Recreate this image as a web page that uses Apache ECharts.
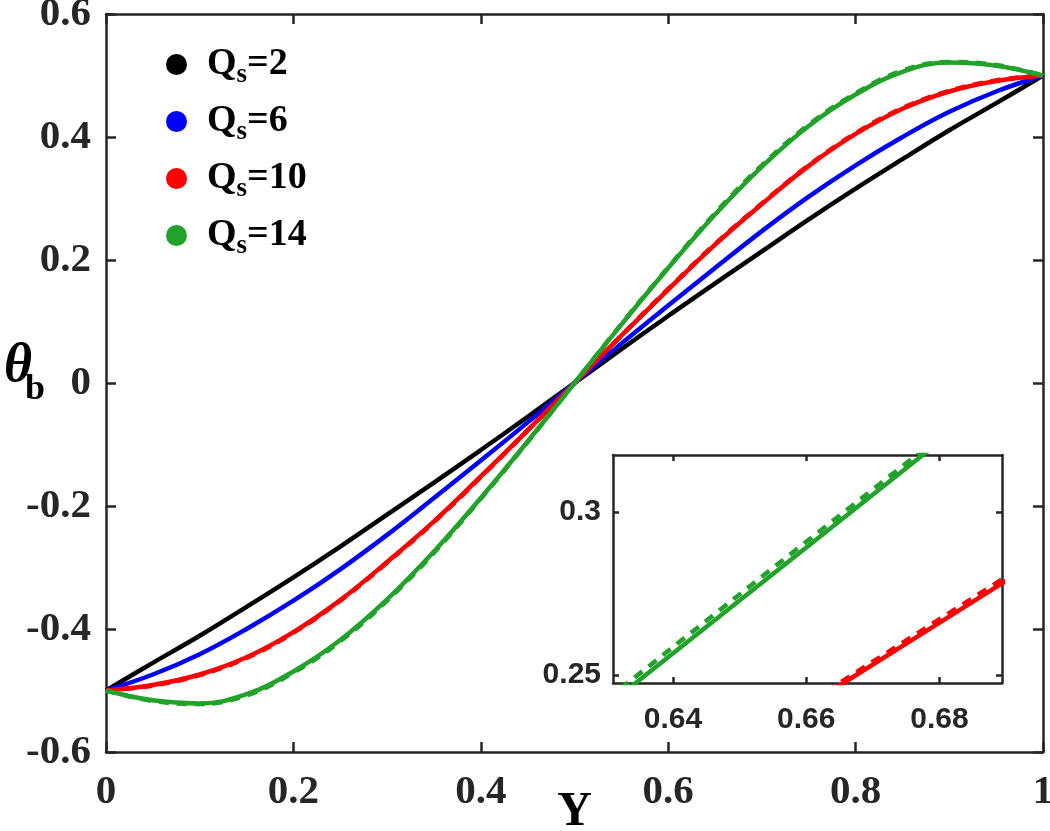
<!DOCTYPE html>
<html>
<head>
<meta charset="utf-8">
<script src="https://cdn.jsdelivr.net/npm/echarts@6/dist/echarts.min.js"></script>
<style>
  html, body { margin: 0; padding: 0; background: #fff; }
  #chart { width: 1050px; height: 831px; }
</style>
</head>
<body>
<div id="chart"></div>
<script>
const chartDom = document.getElementById("chart");
let myChart = echarts.init(chartDom);

/** main plot data */
const ys = [0, 0.05, 0.1, 0.15, 0.2, 0.25, 0.3, 0.35, 0.4, 0.45, 0.5, 0.55, 0.6, 0.65, 0.7, 0.75, 0.8, 0.85, 0.9, 0.95, 1];
const qs2 = [-0.5, -0.455, -0.411, -0.364, -0.316, -0.266, -0.214, -0.162, -0.109, -0.055, 0, 0.055, 0.109, 0.162, 0.214, 0.266, 0.316, 0.364, 0.411, 0.455, 0.5];
const qs6 = [-0.5, -0.474, -0.441, -0.400, -0.354, -0.303, -0.247, -0.187, -0.126, -0.064, 0, 0.064, 0.126, 0.187, 0.247, 0.303, 0.354, 0.400, 0.441, 0.474, 0.5];
const qs10 = [-0.5, -0.491, -0.474, -0.446, -0.405, -0.353, -0.291, -0.225, -0.152, -0.077, 0, 0.077, 0.152, 0.225, 0.291, 0.353, 0.405, 0.446, 0.474, 0.491, 0.5];
const qs14 = [-0.5, -0.516, -0.521, -0.506, -0.469, -0.418, -0.352, -0.274, -0.187, -0.095, 0, 0.095, 0.187, 0.274, 0.352, 0.418, 0.469, 0.506, 0.521, 0.516, 0.5];
// dashed companions (almost on top of the solid ones)
const qs10Dash = [-0.5, -0.492, -0.475, -0.447, -0.406, -0.354, -0.292, -0.226, -0.153, -0.077, 0, 0.077, 0.153, 0.226, 0.292, 0.354, 0.406, 0.447, 0.475, 0.492, 0.5];
const qs14Dash = [-0.5, -0.517, -0.522, -0.508, -0.471, -0.420, -0.354, -0.276, -0.188, -0.096, 0, 0.096, 0.188, 0.276, 0.354, 0.420, 0.471, 0.508, 0.522, 0.517, 0.5];

/** inset data */
const insetGreenX = [0.630, 0.6344, 0.656, 0.6775, 0.681];
const insetGreenY = [0.2405, 0.2476, 0.2826, 0.3174, 0.3231];
const insetGreenDashX = [0.630, 0.6332, 0.655, 0.6766, 0.680];
const insetGreenDashY = [0.2424, 0.2476, 0.2828, 0.3174, 0.3228];
const insetRedX = [0.663, 0.6656, 0.678, 0.6894, 0.692];
const insetRedY = [0.2443, 0.2476, 0.2635, 0.2781, 0.2814];
const insetRedDashX = [0.663, 0.6650, 0.677, 0.6894, 0.692];
const insetRedDashY = [0.2450, 0.2476, 0.2632, 0.2793, 0.2828];

const names = ["Qs=2", "Qs=6", "Qs=10", "Qs=14"];
const legendNums = ["2", "6", "10", "14"];
const colors = ["#000000", "#0000ff", "#ff0000", "#22a12b"];

const mainXTicks = [0, 0.2, 0.4, 0.6, 0.8, 1];
const mainYTicks = [-0.6, -0.4, -0.2, 0, 0.2, 0.4, 0.6];
const insetXTicks = [0.64, 0.66, 0.68];
const insetYTicks = [0.25, 0.3];

const axisColor = "#262626";

function pairs(xv, yv) {
  return xv.map((x, i) => [x, yv[i]]);
}

/** one axis of a box, labels only on bottom/left */
function boxAxis(opts) {
  return {
    type: "value",
    gridIndex: opts.grid,
    position: opts.position,
    min: opts.min,
    max: opts.max,
    axisLine: { show: true, onZero: false, lineStyle: { color: axisColor, width: 2.5 } },
    axisTick: {
      show: true, inside: true, length: opts.tickLen,
      customValues: opts.ticks,
      lineStyle: { color: axisColor, width: 2.5 }
    },
    axisLabel: {
      show: opts.label,
      customValues: opts.ticks,
      margin: opts.margin,
      color: axisColor,
      fontFamily: opts.font,
      fontWeight: "bold",
      fontSize: opts.fontSize,
      formatter: (v) => String(v)
    },
    splitLine: { show: false }
  };
}

const mainFont = "Liberation Serif";
const insetFont = "Liberation Sans";

let xAxes = [
  Object.assign(boxAxis({ grid: 0, position: "bottom", min: 0, max: 1, ticks: mainXTicks, tickLen: 10, label: true, margin: 20, font: mainFont, fontSize: 41 }), {
    name: "Y", nameLocation: "middle", nameGap: 37, nameMoveOverlap: false,
    nameTextStyle: { fontFamily: mainFont, fontWeight: "bold", fontSize: 48, color: "#000", verticalAlign: "top" }
  }),
  boxAxis({ grid: 0, position: "top", min: 0, max: 1, ticks: mainXTicks, tickLen: 10, label: false }),
  boxAxis({ grid: 1, position: "bottom", min: 0.631, max: 0.6894, ticks: insetXTicks, tickLen: 6, label: true, margin: 22, font: insetFont, fontSize: 30 }),
  boxAxis({ grid: 1, position: "top", min: 0.631, max: 0.6894, ticks: insetXTicks, tickLen: 6, label: false })
];

let yAxes = [
  boxAxis({ grid: 0, position: "left", min: -0.6, max: 0.6, ticks: mainYTicks, tickLen: 10, label: true, margin: 15, font: mainFont, fontSize: 41 }),
  boxAxis({ grid: 0, position: "right", min: -0.6, max: 0.6, ticks: mainYTicks, tickLen: 10, label: false }),
  boxAxis({ grid: 1, position: "left", min: 0.2476, max: 0.3174, ticks: insetYTicks, tickLen: 6, label: true, margin: 12, font: insetFont, fontSize: 30 }),
  boxAxis({ grid: 1, position: "right", min: 0.2476, max: 0.3174, ticks: insetYTicks, tickLen: 6, label: false })
];

function lineSeries(name, data, color, dashed, axis) {
  return {
    name: name,
    type: "line",
    xAxisIndex: axis,
    yAxisIndex: axis,
    data: data,
    smooth: axis === 0 ? 0.4 : false,
    symbol: "none",
    clip: true,
    lineStyle: { color: color, width: 4.5, type: dashed ? [10, 8] : "solid" },
    itemStyle: { color: color },
    z: dashed ? 2 : 3
  };
}

let series = [
  lineSeries("d10", pairs(ys, qs10Dash), colors[2], true, 0),
  lineSeries("d14", pairs(ys, qs14Dash), colors[3], true, 0),
  lineSeries(names[0], pairs(ys, qs2), colors[0], false, 0),
  lineSeries(names[1], pairs(ys, qs6), colors[1], false, 0),
  lineSeries(names[2], pairs(ys, qs10), colors[2], false, 0),
  lineSeries(names[3], pairs(ys, qs14), colors[3], false, 0),
  // inset
  lineSeries("i14d", pairs(insetGreenDashX, insetGreenDashY), colors[3], true, 2),
  lineSeries("i10d", pairs(insetRedDashX, insetRedDashY), colors[2], true, 2),
  lineSeries("i14", pairs(insetGreenX, insetGreenY), colors[3], false, 2),
  lineSeries("i10", pairs(insetRedX, insetRedY), colors[2], false, 2)
];

let option = {
  backgroundColor: "#fff",
  animation: false,
  grid: [
    { left: 106, top: 14, right: 7, bottom: 79, outerBoundsMode: "none" },
    { left: 613, top: 455, right: 48, bottom: 148, outerBoundsMode: "none", show: true, backgroundColor: "#fff", borderWidth: 0 }
  ],
  xAxis: xAxes,
  yAxis: yAxes,
  legend: {
    data: names,
    orient: "vertical",
    left: 161,
    top: 35,
    itemGap: 8,
    itemWidth: 23,
    itemHeight: 21,
    icon: "circle",
    formatter: (name) => "{q|Q}{s|s}{q|=" + legendNums[names.indexOf(name)] + "}",
    textStyle: {
      padding: [0, 0, 0, 14],
      rich: {
        q: { fontFamily: mainFont, fontWeight: "bold", fontSize: 38, color: "#000", lineHeight: 44 },
        s: { fontFamily: mainFont, fontWeight: "bold", fontSize: 27, color: "#000", padding: [22, 0, 0, 0], lineHeight: 44 }
      }
    }
  },
  graphic: [
    {
      type: "text", left: 4, top: 340,
      style: { text: "θ", fontFamily: mainFont, fontStyle: "italic", fontWeight: "bold", fontSize: 54, fill: "#000" }
    },
    {
      type: "text", left: 25, top: 372,
      style: { text: "b", fontFamily: mainFont, fontWeight: "bold", fontSize: 36, fill: "#000" }
    }
  ],
  series: series
};

option && myChart.setOption(option);
</script>
</body>
</html>
